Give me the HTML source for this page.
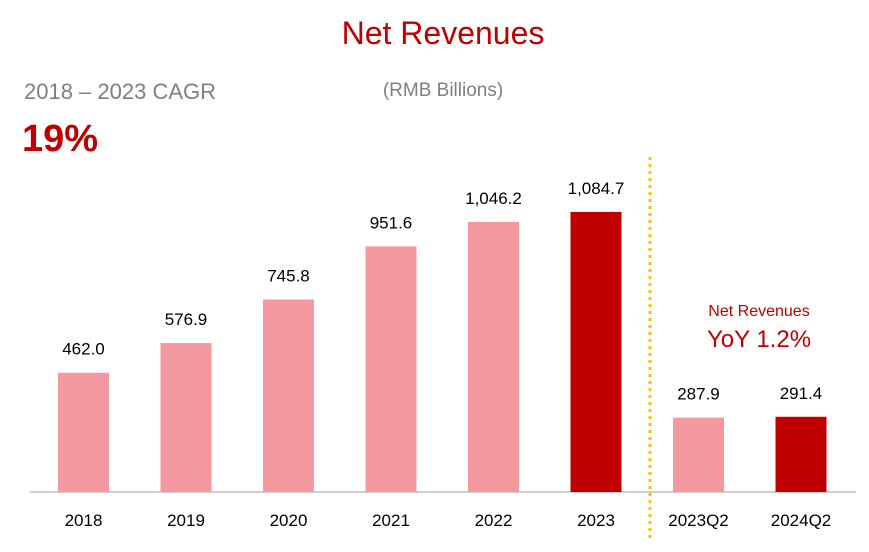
<!DOCTYPE html>
<html><head><meta charset="utf-8">
<style>
body{margin:0;background:#fff;width:869px;height:547px;overflow:hidden;font-family:"Liberation Sans",Arial,sans-serif;}
svg text{font-family:"Liberation Sans",Arial,sans-serif;}
</style></head>
<body>
<svg width="869" height="547">
<text x="443" y="44" text-anchor="middle" font-size="32" fill="#c00000">Net Revenues</text>
<text x="443" y="96" text-anchor="middle" font-size="19" fill="#7f7f7f">(RMB Billions)</text>
<text x="24" y="99" font-size="22" fill="#7f7f7f">2018 – 2023 CAGR</text>
<text x="22" y="151" font-size="38" font-weight="bold" fill="#c00000">19%</text>
<text x="759" y="316" text-anchor="middle" font-size="16" fill="#c00000">Net Revenues</text>
<text x="759" y="347" text-anchor="middle" font-size="24" fill="#c00000">YoY 1.2%</text>
<line x1="650" y1="157" x2="650" y2="542" stroke="#ffc000" stroke-width="3" stroke-dasharray="3,4"/>
<line x1="30" y1="492" x2="856" y2="492" stroke="#bfbfbf" stroke-width="1.5"/>
<g id="bars"></g>
</svg>
<script>
const categories=["2018","2019","2020","2021","2022","2023","2023Q2","2024Q2"];
const values=[462.0,576.9,745.8,951.6,1046.2,1084.7,287.9,291.4];
const labels=["462.0","576.9","745.8","951.6","1,046.2","1,084.7","287.9","291.4"];
const highlight=[false,false,false,false,false,true,false,true];
const base=492, scale=280/1084.7, barW=51;
const y=v=>base-v*scale;
const xc=i=>83.5+i*102.5;
const g=document.getElementById('bars');
const ns="http://www.w3.org/2000/svg";
categories.forEach((c,i)=>{
  const r=document.createElementNS(ns,'rect');
  r.setAttribute('x',xc(i)-barW/2);r.setAttribute('y',y(values[i]));
  r.setAttribute('width',barW);r.setAttribute('height',base-y(values[i]));
  r.setAttribute('fill',highlight[i]?'#c00000':'#f4999f');
  
  
  g.appendChild(r);
  const t=document.createElementNS(ns,'text');
  t.setAttribute('x',xc(i));t.setAttribute('y',y(values[i])-18);
  t.setAttribute('text-anchor','middle');t.setAttribute('font-size','17');t.setAttribute('fill','#000');
  t.textContent=labels[i];
  
  
  g.appendChild(t);
  const l=document.createElementNS(ns,'text');
  l.setAttribute('x',xc(i));l.setAttribute('y',526);
  l.setAttribute('text-anchor','middle');l.setAttribute('font-size','17');l.setAttribute('fill','#000');
  l.textContent=c;
  
  
  g.appendChild(l);
});
</script>
</body></html>
